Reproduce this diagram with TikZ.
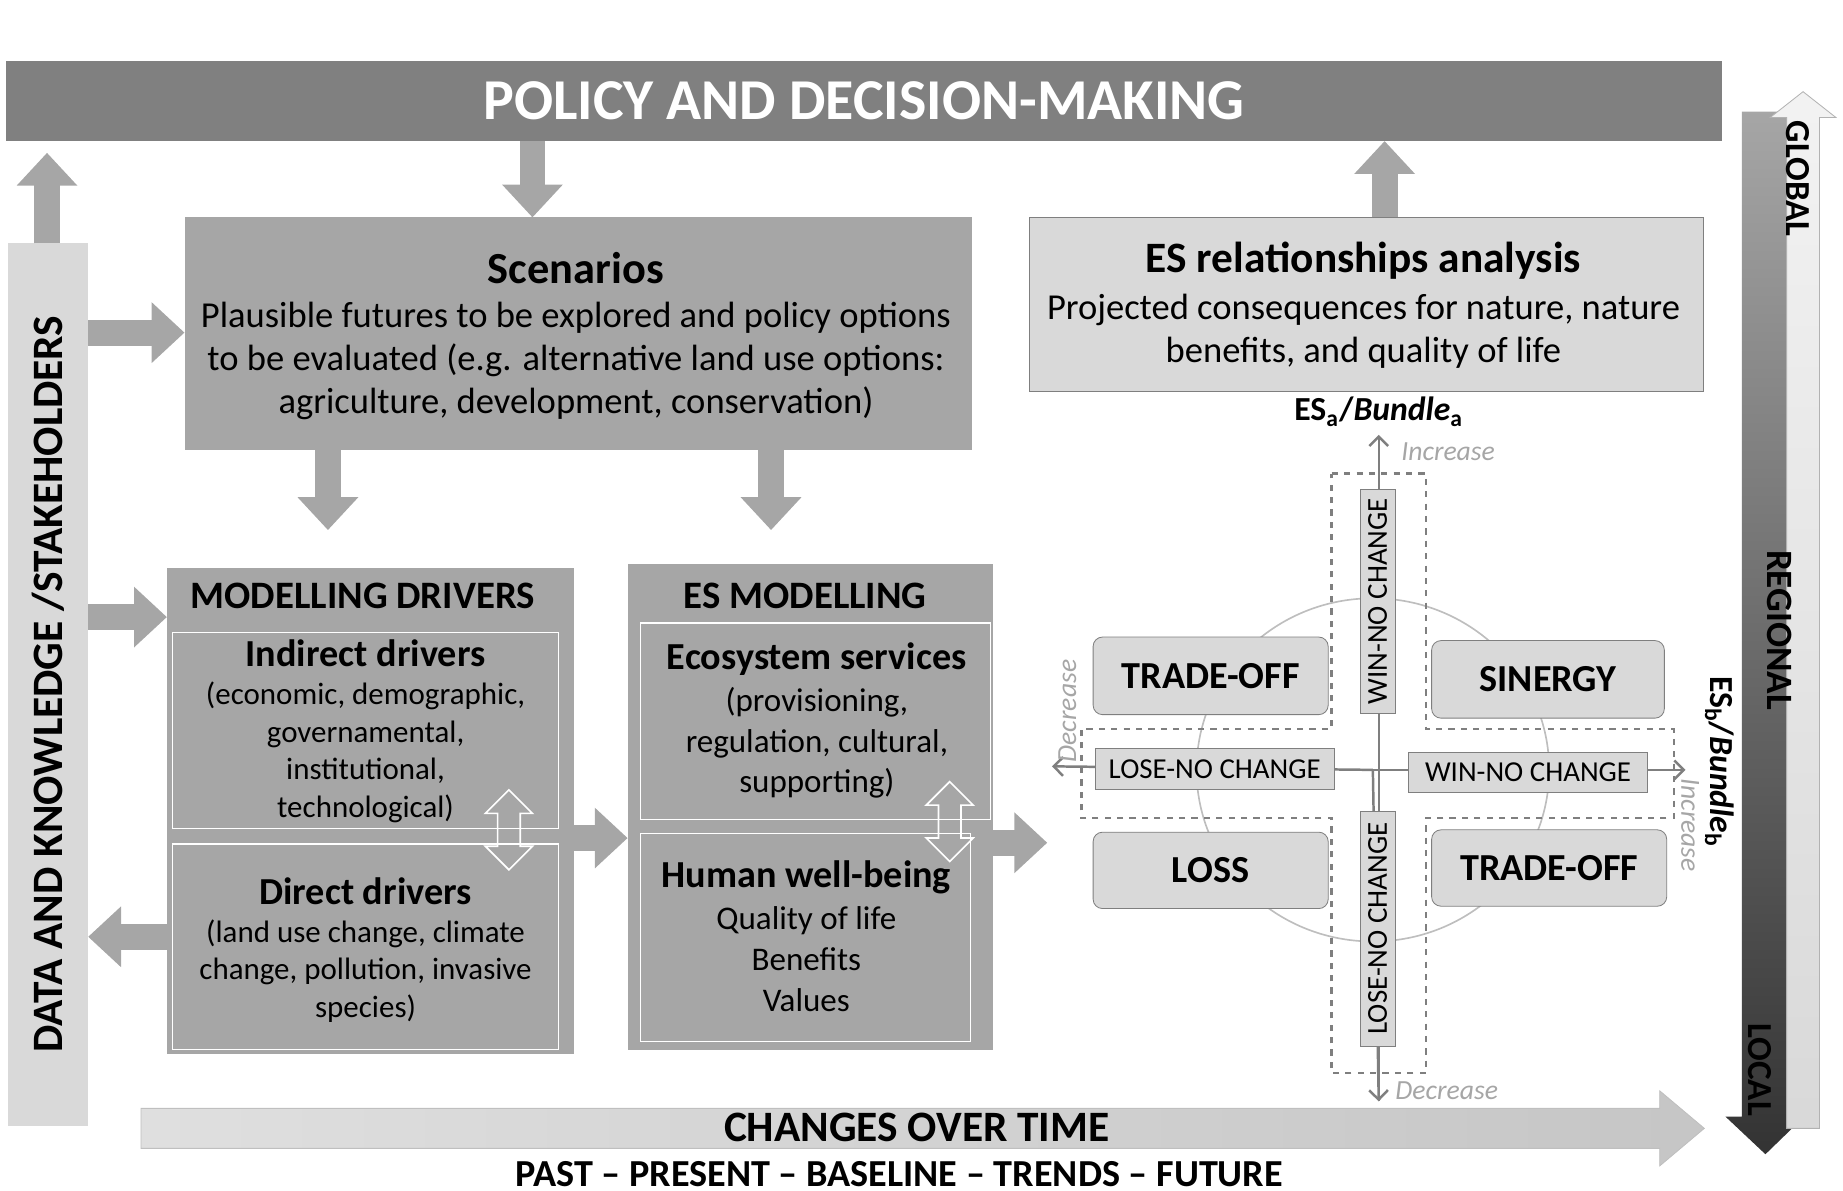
\documentclass[tikz,border=0pt]{standalone}
\usepackage{fontspec}
\setmainfont{Carlito}
\usetikzlibrary{arrows.meta,shapes.arrows,calc}
\newdimen\pxu \pxu=0.02cm
\definecolor{pol}{HTML}{808080}
\definecolor{mid}{HTML}{A6A6A6}
\definecolor{lite}{HTML}{D9D9D9}
\definecolor{edge}{HTML}{7F7F7F}
\tikzset{
 bx/.style={minimum width=#1\pxu, inner sep=0pt, outer sep=0pt},
 fat/.style={draw=mid, line width=0.44cm, -{Triangle[length=0.56cm,width=1cm]}},
 qbox/.style={draw=edge, fill=lite, rounded corners=0.16cm, inner sep=0pt, font=\fontsize{18.5}{21}\selectfont\bfseries},
 sbox/.style={draw=edge, fill=lite, inner sep=0pt, font=\fontsize{14}{16}\selectfont},
 hollow/.style={double arrow, draw=white, line width=0.8pt, minimum height=1.36cm, minimum width=0.8cm, double arrow head extend=0.08cm, inner sep=0.06cm, rotate=90},
 inner/.style={draw=white, line width=0.6pt},
 body/.style={align=center, font=\fontsize{15}{18.2}\selectfont},
 ttl/.style={font=\fontsize{18.5}{21}\selectfont\bfseries},
 axis/.style={draw=edge, line width=1.2pt, -{Straight Barb[length=0.16cm,width=0.32cm]}},
 note/.style={text=mid, font=\fontsize{13.4}{15}\selectfont\itshape},
}
\begin{document}
\begin{tikzpicture}[x=0.02cm,y=-0.02cm]
\useasboundingbox (0,0) rectangle (1568,1013);
% policy bar
\node[bx=1460, minimum height=68\pxu, fill=pol, text=white, font=\fontsize{28}{32}\selectfont\bfseries] (policy) at (735,86) {POLICY AND DECISION-MAKING};
% stakeholders
\node[bx=68, minimum height=751\pxu, fill=lite] (stake) at (41,582.5) {};
\node[rotate=90, font=\fontsize{21}{24}\selectfont\bfseries] (staket) at (41,582) {DATA AND KNOWLEDGE /STAKEHOLDERS};
% scenarios
\node[bx=670, minimum height=198\pxu, fill=mid] (scen) at (492,284) {};
\node[font=\fontsize{21.5}{25}\selectfont\bfseries] (scent) at (490,228) {Scenarios};
\node[align=center, font=\fontsize{17.7}{21}\selectfont] (scenb) at (490,307) {Plausible futures to be explored and policy options\\to be evaluated (e.g. alternative land use options:\\agriculture, development, conservation)};
% ES relationships
\node[bx=573, minimum height=148\pxu, fill=lite, draw=edge] (esrel) at (1162.5,259) {};
\node[font=\fontsize{21}{25}\selectfont\bfseries] (esrelt) at (1160,222) {ES relationships analysis};
\node[align=center, font=\fontsize{17.7}{21}\selectfont] (esrelb) at (1160,282) {Projected consequences for nature, nature\\benefits, and quality of life};
% modelling drivers
\node[bx=346, minimum height=414\pxu, fill=mid] (md) at (315,690) {};
\node[font=\fontsize{18.8}{22}\selectfont\bfseries, anchor=west] (mdt) at (156,507) {MODELLING DRIVERS};
\node[bx=328, minimum height=167\pxu, inner] (ind) at (311,621.5) {};
\node[ttl] (indt) at (311,556) {Indirect drivers};
\node[body] (indb) at (311,640) {(economic, demographic,\\governamental,\\institutional,\\technological)};
\node[bx=328, minimum height=175\pxu, inner] (dir) at (311,805.5) {};
\node[ttl] (dirt) at (311,758) {Direct drivers};
\node[body] (dirb) at (311,826) {(land use change, climate\\change, pollution, invasive\\species)};
\node[hollow] (dar1) at (433,706) {};
% ES modelling
\node[bx=311, minimum height=413\pxu, fill=mid] (esm) at (689.5,686.5) {};
\node[font=\fontsize{18.8}{22}\selectfont\bfseries] (esmt) at (685,507) {ES MODELLING};
\node[bx=298, minimum height=167\pxu, inner] (eco) at (694,613.5) {};
\node[ttl] (ecot) at (695,561) {Ecosystem services};
\node[body, font=\fontsize{16}{19.5}\selectfont] (ecob) at (695,632) {(provisioning,\\regulation, cultural,\\supporting)};
\node[bx=281, minimum height=177\pxu, inner] (hw) at (685.5,797.5) {};
\node[ttl] (hwt) at (686,746) {Human well-being};
\node[body, font=\fontsize{16}{20}\selectfont] (hwb) at (686,816) {Quality of life\\Benefits\\Values};
\node[hollow] (dar2) at (808,699) {};
% fat arrows
\draw[fat] (policy.south -| 453,0) -- (scen.north -| 453,0);
\draw[fat] (stake.north -| 40,0) -- (40,130);
\draw[fat] (esrel.north -| 1178,0) -- (policy.south -| 1178,0);
\draw[fat] (stake.east |- 0,283) -- (scen.west |- 0,283);
\draw[fat] (stake.east |- 0,525) -- (md.west |- 0,525);
\draw[fat] (md.west |- 0,797) -- (stake.east |- 0,797);
\draw[fat] (scen.south -| 279,0) -- (279,451);
\draw[fat] (scen.south -| 656,0) -- (656,451);
\draw[fat] (md.east |- 0,713) -- (esm.west |- 0,713);
\draw[fat] (esm.east |- 0,717) -- (891,717);
% quadrant
\coordinate (qc) at (1168,655);
\draw[lite!70!gray, line width=0.8pt] (qc) ellipse (150 and 146);
\draw[edge, dashed, line width=1.2pt] (1133,403) -- (1213,403) -- (1213,620) -- (1424,620) -- (1424,696) -- (1213,696) -- (1213,913) -- (1133,913) -- (1133,696) -- (920,696) -- (920,620) -- (1133,620) -- cycle;
\coordinate (atop) at (1173,370);
\coordinate (abot) at (1173,937);
\coordinate (alef) at (895,652);
\coordinate (arig) at (1434,655);
\draw[axis] (abot) -- (atop);
\draw[axis] (qc) -- (abot);
\draw[axis] (qc) -- (alef);
\draw[axis] (qc) -- (arig);
\node[qbox, minimum width=200\pxu, minimum height=66\pxu] (to1) at (1030,575) {TRADE-OFF};
\node[qbox, minimum width=198\pxu, minimum height=66\pxu] (syn) at (1317,578) {SINERGY};
\node[qbox, minimum width=200\pxu, minimum height=65\pxu] (loss) at (1030,740.5) {LOSS};
\node[qbox, minimum width=200\pxu, minimum height=65\pxu] (to2) at (1318,738.5) {TRADE-OFF};
\node[sbox, minimum width=191\pxu, minimum height=30\pxu, rotate=90] (wv) at (1172,511.5) {WIN-NO CHANGE};
\node[sbox, minimum width=200\pxu, minimum height=30\pxu, rotate=90] (lv) at (1172,790) {LOSE-NO CHANGE};
\node[sbox, minimum width=203\pxu, minimum height=35\pxu] (lh) at (1033.5,654.5) {LOSE-NO CHANGE};
\node[sbox, minimum width=204\pxu, minimum height=34\pxu] (wh) at (1300,657) {WIN-NO CHANGE};
\node[font=\fontsize{16.3}{18}\selectfont\bfseries, above=0.02cm] (esa) at (atop) {ES\textsubscript{a}/\textit{Bundle}\textsubscript{a}};
\node[note, anchor=west] (inc1) at (1186,384) {Increase};
\node[note, anchor=west] (dec1) at (1181,928) {Decrease};
\node[note, rotate=90] (dec2) at (908,605) {Decrease};
\node[note, rotate=-90] (inc2) at (1438,702) {Increase};
\node[font=\fontsize{16.3}{18}\selectfont\bfseries, rotate=-90] (esb) at (1463,648) {ES\textsubscript{b}/\textit{Bundle}\textsubscript{b}};
% scale bar
\shade[top color=gray!70, bottom color=gray!40!black] (1482,95) -- (1522,95) -- (1522,950) -- (1535,950) -- (1502,982) -- (1468,950) -- (1482,950) -- cycle;
\shade[top color=gray!10, bottom color=gray!30, draw=gray!60] (1520,100) -- (1520,960) -- (1548,960) -- (1548,100) -- (1562,100) -- (1534,78) -- (1506,100) -- cycle;
\node[rotate=-90, font=\fontsize{17}{20}\selectfont\bfseries] (glob) at (1530,152) {GLOBAL};
\node[rotate=-90, font=\fontsize{18}{20}\selectfont\bfseries] (reg) at (1514,536) {REGIONAL};
\node[rotate=-90, font=\fontsize{17}{20}\selectfont\bfseries] (loc) at (1497,910) {LOCAL};
% bottom time arrow
\shade[left color=gray!25, right color=gray!45, draw=gray!50] (120,943) -- (1412,943) -- (1412,928) -- (1450,960) -- (1412,992) -- (1412,977) -- (120,977) -- cycle;
\node[font=\fontsize{21}{24}\selectfont\bfseries] (time) at (780,959) {CHANGES OVER TIME};
\node[font=\fontsize{18.5}{21}\selectfont\bfseries] (past) at (765,999) {PAST -- PRESENT -- BASELINE -- TRENDS -- FUTURE};
\end{tikzpicture}
\end{document}
